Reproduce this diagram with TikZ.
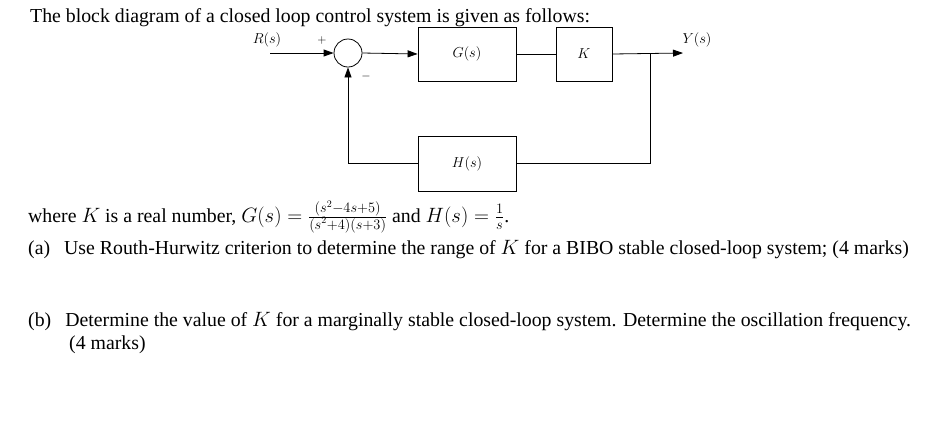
\documentclass[tikz,border=0pt]{standalone}
\usepackage{fontspec}
\setmainfont{Liberation Serif}
\usetikzlibrary{arrows.meta}
\begin{document}
\begin{tikzpicture}[x=1pt,y=-1pt,
  blk/.style={draw,line width=0.8pt,inner sep=0pt},
  lbl/.style={font=\fontsize{15.5}{17}\selectfont},
  txt/.style={anchor=base west,inner sep=0pt,font=\fontsize{19.8}{22}\selectfont},
  arr/.style={-{Triangle[length=10pt,width=7pt]},line width=0.8pt},
  ln/.style={line width=0.8pt}]
\useasboundingbox (0,0) rectangle (945,421);
\node[txt] (title) at (30,22) {The block diagram of a closed loop control system is given as follows:};
\node[draw,circle,line width=0.8pt,minimum size=28pt,inner sep=0pt] (sum) at (348,53) {};
\node[blk,minimum width=98pt,minimum height=54pt,lbl] (G) at (467,54) {$G(s)$};
\node[blk,minimum width=56pt,minimum height=54pt,lbl] (K) at (584,54) {$K$};
\node[blk,minimum width=98pt,minimum height=55pt,lbl] (H) at (467,163.5) {$H(s)$};
\coordinate (in) at (270,53);
\coordinate (br) at (650,53);
\coordinate (out) at (683,53);
\node[lbl] (R) at (267,40) {$R(s)$};
\node[lbl] (Y) at (697,40) {$Y(s)$};
\node[font=\fontsize{12}{12}\selectfont] (plus) at (322,40) {$+$};
\node[font=\fontsize{12}{12}\selectfont] (minus) at (366,76) {$-$};
\draw[arr] (in) -- (sum.west);
\draw[arr] (sum.east) -- (G.west);
\draw[ln] (G.east) -- (K.west);
\draw[arr] (K.east) -- (out);
\draw[ln] (br) |- (H.east);
\draw[arr] (H.west) -| (sum.south);
\node[txt] (where) at (28,222) {where $K$ is a real number, $G(s)=\frac{\textstyle\scriptstyle(s^2-4s+5)}{\textstyle\scriptstyle(s^2+4)(s+3)}$ and $H(s)=\frac{1}{s}$.};
\node[txt] (a) at (28,254) {(a)\hspace{14pt}Use Routh-Hurwitz criterion to determine the range of $K$ for a BIBO stable closed-loop system; (4 marks)};
\node[txt] (b) at (28,326) {(b)\hspace{14pt}Determine the value of $K$ for a marginally stable closed-loop system. Determine the oscillation frequency.};
\node[txt] (b2) at (69,349) {(4 marks)};
\end{tikzpicture}
\end{document}
